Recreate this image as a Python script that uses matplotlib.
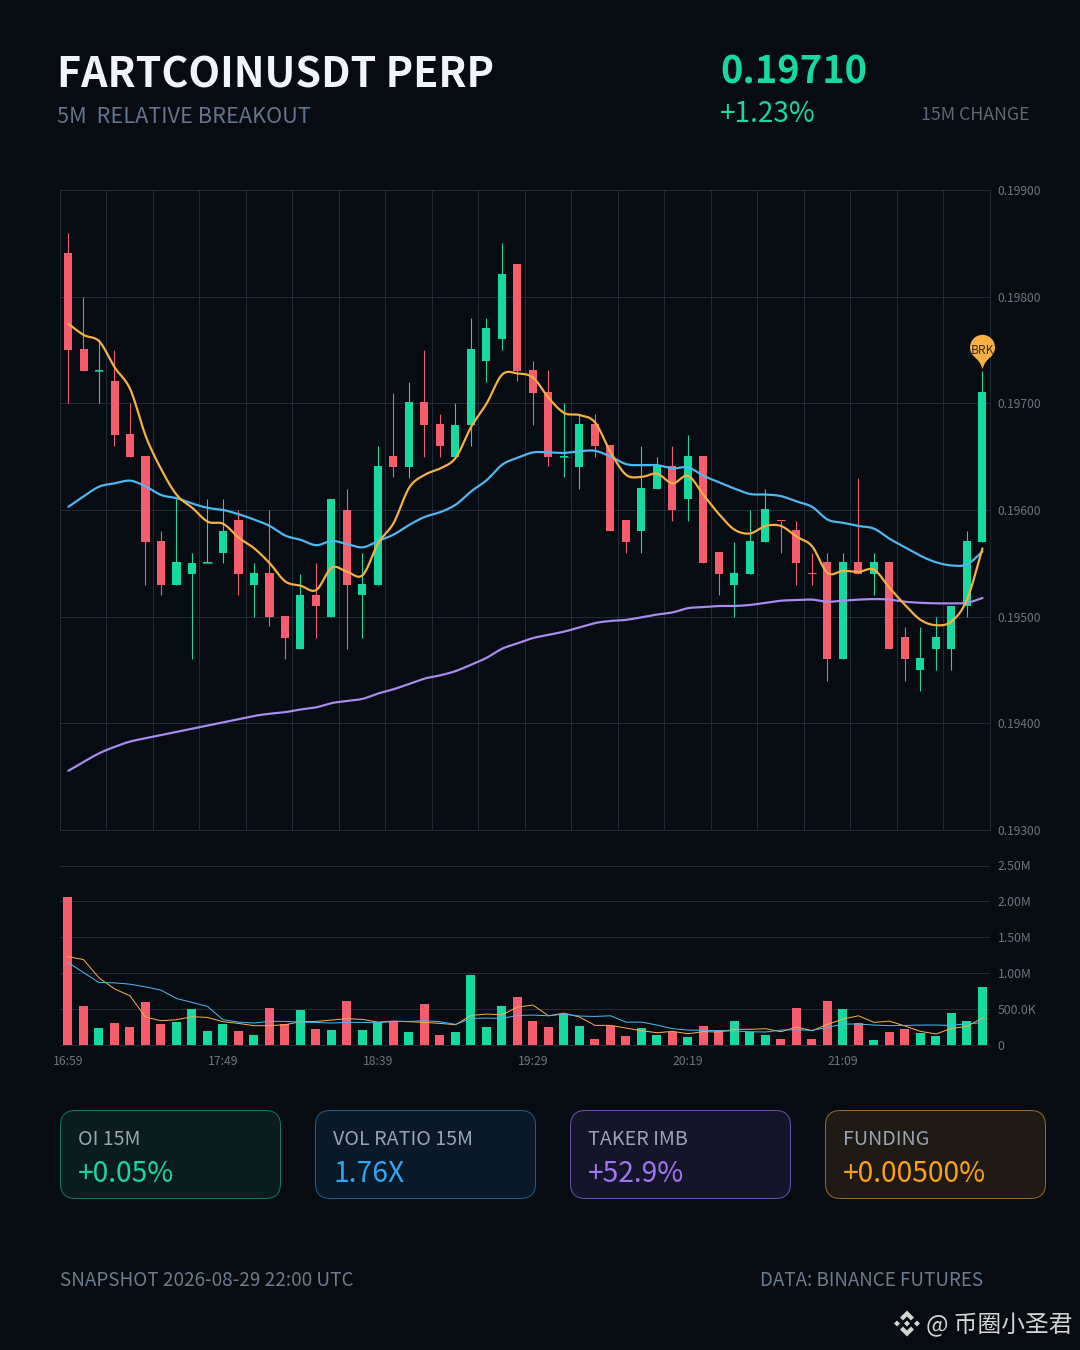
import numpy as np
import matplotlib
matplotlib.use("Agg")
import matplotlib.pyplot as plt
from matplotlib.patches import FancyBboxPatch, Polygon, PathPatch
from matplotlib.path import Path
from matplotlib.transforms import Affine2D

plt.rcParams['font.family'] = ['Noto Sans CJK SC', 'DejaVu Sans']

# ---------- data (prices in units of 0.00001) ----------
opens = [19841,19751,19730,19721,19671,19651,19571,19530,19540,19550,19560,19591,19530,19541,19501,19470,19520,19500,19600,19520,19530,19651,
         19640,19701,19681,19650,19680,19740,19760,19831,19731,19711,19650,19640,19681,19661,19591,19580,19620,19641,19610,19651,19561,19530,
         19540,19570,19591,19581,19541,19551,19460,19551,19540,19551,19481,19450,19470,19470,19510,19570]
highs = [19860,19800,19760,19750,19700,19651,19580,19610,19560,19610,19610,19600,19550,19600,19501,19540,19550,19610,19620,19560,19660,19710,
         19720,19750,19690,19700,19780,19780,19850,19831,19740,19731,19700,19690,19690,19661,19591,19660,19650,19660,19670,19651,19561,19570,
         19600,19620,19590,19590,19560,19560,19560,19630,19560,19551,19490,19490,19500,19510,19580,19730]
lows = [19700,19730,19700,19660,19650,19530,19520,19530,19460,19550,19550,19520,19500,19491,19460,19470,19480,19500,19470,19480,19530,19631,
        19630,19650,19650,19650,19660,19720,19750,19721,19680,19641,19631,19620,19650,19580,19560,19560,19620,19590,19590,19550,19520,19500,
        19540,19570,19560,19530,19530,19440,19460,19540,19520,19470,19440,19430,19450,19450,19500,19570]
closes = [19750,19730,19731,19670,19650,19570,19530,19551,19550,19551,19580,19540,19541,19500,19480,19520,19510,19610,19530,19531,19641,19640,
          19701,19680,19660,19680,19751,19771,19821,19730,19710,19650,19651,19681,19660,19580,19570,19621,19641,19600,19651,19550,19540,19541,
          19571,19601,19590,19550,19540,19460,19551,19540,19551,19470,19460,19461,19481,19510,19571,19711]

ema_fast = [19774.5,19764,19758,19733.5,19713,19669,19638,19614,19602,19589,19587,19574,19564,19550,19533,19529,19525,19546,19542,19539,
            19569,19588,19621,19633,19639,19649,19678,19700,19727,19728,19724,19705,19691,19689,19682,19654,19633,19631,19634,19625,
            19632,19614,19596,19581.5,19578,19585,19585,19575,19566,19541,19543,19542,19544,19527,19511,19497,19492,19495.5,19516,19564]
ema_mid = [19603,19613,19622,19625,19627.5,19622,19614,19611,19606,19602,19600,19596,19591,19585,19576,19572,19567,19571,19568,19565,
           19571,19577,19586,19593.5,19598,19605,19617.5,19628,19642.5,19649,19654,19654,19653.5,19655,19655.5,19650,19643,19642,19642,19639,
           19640,19632,19626,19620,19615,19614.5,19613,19608,19603,19591,19588,19585,19582.5,19573,19565,19557,19551,19548,19549,19561]
ema_slow = [19355.5,19364,19372,19378,19383,19386,19389,19392,19395,19398,19401,19404,19407,19409,19410.5,19413,19415,19419,19421,19423,
            19428,19432,19437,19442,19445,19449,19455,19461.5,19470,19475,19480,19483,19486,19490,19494,19496,19497,19499.5,19502,19504,
            19508,19509,19510,19510,19511,19513,19515,19515.5,19516,19514,19515,19516,19516.5,19516,19514,19513,19512.5,19512.5,19513,19517.5]

# volumes in thousands
volumes = [2060,537,236,306,255,593,287,324,505,190,292,194,134,514,287,491,222,204,616,208,301,333,181,565,144,185,972,245,537,671,
           338,250,431,269,88,269,130,236,134,181,111,269,213,333,176,139,83,519,83,606,505,306,69,181,227,167,125,449,333,801]
vol_ma_a = [1231,1190,935,782,685,389,338,352,394,384,324,301,269,269,282,324,329,347,366,356,319,333,324,315,301,282,412,431,421,528,
            556,407,444,389,273,273,236,199,171,190,157,185,181,218,218,227,185,250,199,287,361,407,315,333,264,190,153,231,259,375]
vol_ma_b = [1148,1009,870,866,847,810,764,648,593,537,352,319,306,329,329,319,315,306,315,315,310,329,329,338,324,287,370,375,370,412,
            417,407,431,403,398,407,319,319,278,227,208,204,199,194,185,181,208,213,204,245,292,292,278,269,273,278,278,273,296,310]

time_labels = ['16:59', '17:49', '18:39', '19:29', '20:19', '21:09']
price_ticks = [19300, 19400, 19500, 19600, 19700, 19800, 19900]
vol_ticks = [0, 500, 1000, 1500, 2000, 2500]
vol_tick_labels = ['0', '500.0K', '1.00M', '1.50M', '2.00M', '2.50M']

card_labels = ['OI 15M', 'VOL RATIO 15M', 'TAKER IMB', 'FUNDING']
card_values = ['+0.05%', '1.76X', '+52.9%', '+0.00500%']

# ---------- style ----------
BG = '#070b12'
GRID = '#1f2b3b'
VGRID = '#222c38'
GREEN = '#16d9a0'
RED = '#f55d6d'
ORANGE = '#f7b042'
BLUE = '#4db8f2'
PURPLE = '#a78bf0'
TICK = '#6d7582'
W, H = 1080, 1350
PX = 0.72  # points per pixel at dpi 100


def smooth(y, n=12):
    """Draw-time Catmull-Rom rendering of the per-candle series."""
    y = np.asarray(y, float)
    x = np.arange(len(y), dtype=float)
    m = np.gradient(y)
    t = np.linspace(0, 1, n, endpoint=False)
    xs, ys = [], []
    for i in range(len(y) - 1):
        h00 = 2*t**3 - 3*t**2 + 1
        h10 = t**3 - 2*t**2 + t
        h01 = -2*t**3 + 3*t**2
        h11 = t**3 - t**2
        ys.append(h00*y[i] + h10*m[i] + h01*y[i+1] + h11*m[i+1])
        xs.append(x[i] + t)
    return np.r_[np.concatenate(xs), x[-1]], np.r_[np.concatenate(ys), y[-1]]


def axes_px(x0, y0, x1, y1):
    return fig.add_axes([x0/W, 1 - y1/H, (x1-x0)/W, (y1-y0)/H])


fig = plt.figure(figsize=(W/100, H/100), dpi=100, facecolor=BG)
idx = np.arange(len(opens))
XL = (-0.516, 59.484)

# ---------- price panel ----------
ax = axes_px(60, 190, 990, 830)
ax.set_facecolor(BG)
ax.set_xlim(*XL)
ax.set_ylim(price_ticks[0], price_ticks[-1])
ax.set_xticks(np.arange(-0.54, 59, 3))
ax.set_xticklabels([])
ax.set_yticks(price_ticks)
ax.set_yticklabels([f'{p/100000:.5f}' for p in price_ticks])
ax.yaxis.tick_right()
ax.tick_params(axis='both', length=0, colors=TICK, labelsize=12*PX, pad=7.5*PX)
ax.grid(True, color=GRID, lw=1*PX)
ax.set_axisbelow(True)
for s in ax.spines.values():
    s.set_color(GRID)
    s.set_linewidth(1*PX)

colors = [GREEN if c >= o else RED for o, c in zip(opens, closes)]
ax.vlines(idx - 0.03, lows, highs, colors=colors, lw=1.1*PX, zorder=2)
ax.bar(idx - 0.02, np.abs(np.subtract(closes, opens)), bottom=np.minimum(opens, closes),
       width=0.52, color=colors, linewidth=0, zorder=3)
for o, c, i, col in zip(opens, closes, idx, colors):
    if abs(o - c) <= 1:
        ax.plot([i-0.28, i+0.24], [o, o], color=col, lw=1*PX, alpha=0.6, zorder=3)

for series, col in ((ema_slow, PURPLE), (ema_mid, BLUE), (ema_fast, ORANGE)):
    sx, sy = smooth(series)
    ax.plot(sx, sy, color=col, lw=2.2*PX, zorder=4, solid_capstyle='round')

# breakout pin sitting above the last candle's high: teardrop with its tip at the origin (px)
ang = np.radians(np.linspace(-48, 228, 48))
arc = np.c_[12.5*np.cos(ang), 22 + 12.5*np.sin(ang)]
verts = np.vstack([[(0, 0)], [(1.5, 7)], arc, [(-1.5, 7)], [(0, 0)], [(0, 0)]])
codes = [Path.MOVETO, Path.CURVE3] + [Path.CURVE3] + [Path.LINETO]*(len(arc)-1) + [Path.CURVE3, Path.CURVE3, Path.CLOSEPOLY]
pin = Path(verts, codes)
tip = ax.transData.transform((59, highs[-1]))
ax.add_patch(PathPatch(pin, facecolor=ORANGE, edgecolor='none', clip_on=False, zorder=6,
                       transform=Affine2D().translate(tip[0], tip[1] + 2)))
ax.annotate('BRK', xy=(59, highs[-1]), xytext=(0, 21*PX), textcoords='offset points', ha='center', va='center',
            fontsize=12*PX, color='#3a2f14', zorder=7, annotation_clip=False)

# ---------- volume panel ----------
av = axes_px(60, 865.5, 990, 1045)
av.set_facecolor(BG)
av.set_xlim(*XL)
av.set_ylim(0, 2500)
av.set_yticks(vol_ticks)
av.set_yticklabels(vol_tick_labels)
av.yaxis.tick_right()
av.set_xticks(idx[::10])
av.set_xticklabels(time_labels)
av.tick_params(axis='both', length=0, colors=TICK, labelsize=12.2*PX, pad=7.5*PX)
av.tick_params(axis='x', pad=10*PX)
av.grid(True, axis='y', color=VGRID, lw=1*PX)
av.set_axisbelow(True)
for k, s in av.spines.items():
    s.set_visible(k == 'bottom')
    s.set_color(VGRID)
    s.set_linewidth(1*PX)
av.bar(idx - 0.02, volumes, width=0.56, color=colors, linewidth=0, zorder=3)
av.plot(idx, vol_ma_a, color=ORANGE, lw=1*PX, zorder=4)
av.plot(idx, vol_ma_b, color=BLUE, lw=1*PX, zorder=4)

# ---------- overlay: header, cards, footer ----------
ov = fig.add_axes([0, 0, 1, 1], zorder=10)
ov.set_xlim(0, W)
ov.set_ylim(H, 0)
ov.axis('off')
ov.patch.set_alpha(0)


def t(x, y, s, px, color, weight='normal', ha='left'):
    ov.text(x, y, s, fontsize=px*PX, color=color, fontweight=weight, ha=ha, va='baseline')


t(57, 87, 'FARTCOINUSDT PERP', 41.2, '#f1f5f9', 'bold')
t(57, 123, '5M  RELATIVE BREAKOUT', 21.7, '#64748b')
t(720, 84, '0.19710', 38, GREEN, 'bold')
t(720, 122, '+1.23%', 28, GREEN)
t(1030, 120, '15M CHANGE', 17.8, '#5c6879', ha='right')

cards = [(60, '#0b1c1c', '#137a5e', '#19d79d'), (315, '#0a1927', '#1d5e8c', '#2fa5f5'),
         (570, '#15152a', '#6a4fb0', '#a174f2'), (825, '#1f1a14', '#a0681e', '#fb9f1c')]
for (x, face, edge, vc), lab, val in zip(cards, card_labels, card_values):
    ov.add_patch(FancyBboxPatch((x + 0.5, 1110.5), 220, 88, boxstyle='round,pad=0,rounding_size=15',
                                facecolor=face, edgecolor=edge, lw=1*PX))
    t(x + 18, 1145, lab, 19.7, '#98a3b3')
    t(x + 18, 1182, val, 28.2, vc)

t(60, 1286, 'SNAPSHOT 2026-08-29 22:00 UTC', 18.9, '#6b7b90')
t(983, 1286, 'DATA: BINANCE FUTURES', 18.8, '#6b7b90', ha='right')

# watermark
LOGO = '#d4d4d4'
cx, cy = 907, 1323.5
for pts in ([(0, -13), (7, -6), (4, -3), (0, -7), (-4, -3), (-7, -6)],
            [(0, 13), (7, 6), (4, 3), (0, 7), (-4, 3), (-7, 6)],
            [(0, -3), (3, 0), (0, 3), (-3, 0)],
            [(-13, 0), (-10, -3), (-7, 0), (-10, 3)],
            [(13, 0), (10, -3), (7, 0), (10, 3)]):
    ov.add_patch(Polygon([(cx + a, cy + b) for a, b in pts], closed=True, facecolor=LOGO, edgecolor='none'))
t(926, 1332, '@ 币圈小圣君', 23.7, LOGO)

fig.savefig('out.png', dpi=100, facecolor=BG)
